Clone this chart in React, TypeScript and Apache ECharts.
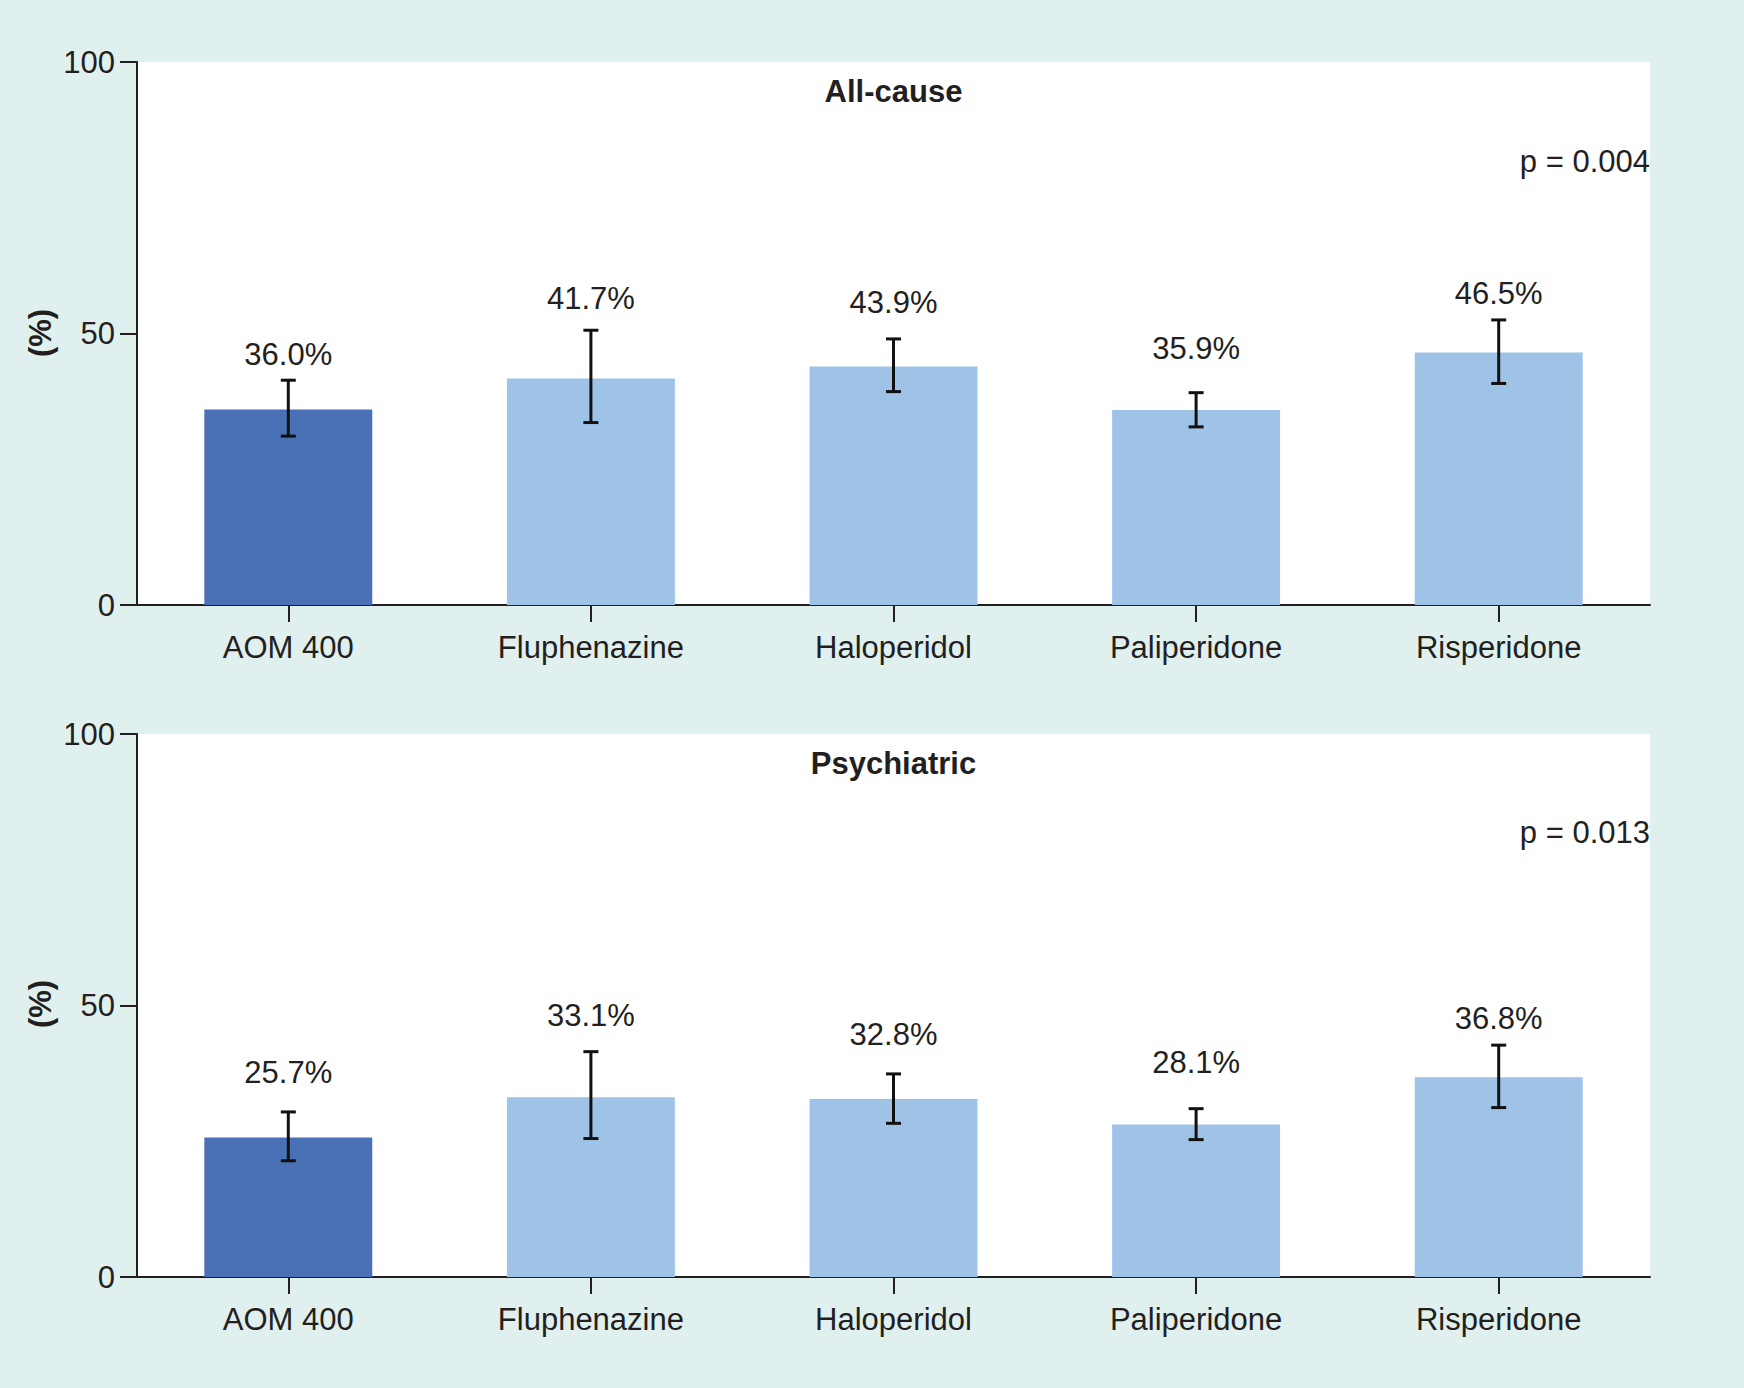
import React, { useEffect, useRef } from "react";
import * as echarts from "echarts";

// Discontinuation rates by long-acting injectable, with 95% CI
const categories = ["AOM 400", "Fluphenazine", "Haloperidol", "Paliperidone", "Risperidone"];

const allCauseRates = [36.0, 41.7, 43.9, 35.9, 46.5];
const allCauseLow = [31.1, 33.6, 39.3, 32.8, 40.8];
const allCauseHigh = [41.4, 50.6, 49.0, 39.1, 52.5];

const psychiatricRates = [25.7, 33.1, 32.8, 28.1, 36.8];
const psychiatricLow = [21.4, 25.5, 28.3, 25.3, 31.2];
const psychiatricHigh = [30.4, 41.5, 37.4, 31.0, 42.7];

const yTickValues = [0, 50, 100];

const panelTitles = ["All-cause", "Psychiatric"];
const pValues = ["p = 0.004", "p = 0.013"];

// Styling
const FONT = "'Liberation Sans', Arial, Helvetica, sans-serif";
const INK = "#231f20";
const BG = "#dff0ee";
const DARK_BAR = "#4a71b5";
const LIGHT_BAR = "#9ec3e6";
const FS = 31;
// Pixel gap between each CI top and its value label
const labelLiftAllCause = [26, 32, 36, 44, 26];
const labelLiftPsychiatric = [39, 36, 39, 46, 27];

const GRID_LEFT = 137;
const GRID_RIGHT_EDGE = 1650;
const GRID_TOPS = [62, 734];
const GRID_HEIGHT = 543;

function errorBarSeries(
  gridIndex: number,
  rates: number[],
  low: number[],
  high: number[],
  lifts: number[]
) {
  return {
    type: "custom",
    xAxisIndex: gridIndex,
    yAxisIndex: gridIndex,
    z: 5,
    encode: { x: 0, y: [1, 2] },
    data: categories.map((_, i) => [i, low[i], high[i], rates[i]]),
    renderItem: (params: any, api: any) => {
      const idx = api.value(0);
      const x = api.coord([idx, 0])[0];
      const yTop = api.coord([idx, api.value(2)])[1];
      const yBot = api.coord([idx, api.value(1)])[1];
      const cap = 7.5;
      const stroke = { stroke: "#111111", lineWidth: 3 };
      return {
        type: "group",
        children: [
          { type: "line", shape: { x1: x, y1: yTop, x2: x, y2: yBot }, style: stroke },
          { type: "line", shape: { x1: x - cap, y1: yTop, x2: x + cap, y2: yTop }, style: stroke },
          { type: "line", shape: { x1: x - cap, y1: yBot, x2: x + cap, y2: yBot }, style: stroke },
          {
            type: "text",
            x: x,
            y: yTop - lifts[params.dataIndex],
            style: {
              text: `${Number(api.value(3)).toFixed(1)}%`,
              align: "center",
              verticalAlign: "middle",
              fontSize: FS,
              fontFamily: FONT,
              fill: INK,
            },
          },
        ],
      };
    },
  };
}

function barSeries(gridIndex: number, rates: number[]) {
  return {
    type: "bar",
    xAxisIndex: gridIndex,
    yAxisIndex: gridIndex,
    barWidth: "55.5%",
    data: rates.map((v, i) => ({
      value: v,
      itemStyle: { color: i === 0 ? DARK_BAR : LIGHT_BAR },
    })),
  };
}

export default function App() {
  const ref = useRef<HTMLDivElement>(null);

  useEffect(() => {
    document.body.style.margin = "0";
    if (!ref.current) return;
    const chart = echarts.init(ref.current, undefined, { renderer: "svg" });

    const grids = GRID_TOPS.map((top) => ({
      left: GRID_LEFT,
      top,
      width: GRID_RIGHT_EDGE - GRID_LEFT,
      height: GRID_HEIGHT,
      show: true,
      backgroundColor: "#ffffff",
      borderWidth: 0,
      containLabel: false,
    }));

    const xAxes = GRID_TOPS.map((_, g) => ({
      type: "category",
      gridIndex: g,
      data: categories,
      axisLine: { show: true, lineStyle: { color: INK, width: 2 } },
      axisTick: {
        show: true,
        alignWithLabel: true,
        length: 17,
        lineStyle: { color: INK, width: 2 },
      },
      axisLabel: {
        margin: 27,
        fontSize: FS,
        fontFamily: FONT,
        color: INK,
      },
      splitLine: { show: false },
    }));

    const yAxes = GRID_TOPS.map((_, g) => ({
      type: "value",
      gridIndex: g,
      min: yTickValues[0],
      max: yTickValues[yTickValues.length - 1],
      interval: yTickValues[1] - yTickValues[0],
      axisLine: { show: true, lineStyle: { color: INK, width: 2 } },
      axisTick: { show: true, length: 17, lineStyle: { color: INK, width: 2 } },
      axisLabel: {
        margin: 22,
        fontSize: FS,
        fontFamily: FONT,
        color: INK,
      },
      splitLine: { show: false },
    }));

    const midX = (GRID_LEFT + GRID_RIGHT_EDGE) / 2;
    const titleYs = [91, 763];
    const pYs = [161, 832];
    const percentYs = [333, 1004];

    const graphics: any[] = [];
    GRID_TOPS.forEach((_, g) => {
      graphics.push({
        type: "text",
        x: midX,
        y: titleYs[g],
        z: 10,
        style: {
          text: panelTitles[g],
          align: "center",
          verticalAlign: "middle",
          fontSize: FS,
          fontWeight: "bold",
          fontFamily: FONT,
          fill: INK,
        },
      });
      graphics.push({
        type: "text",
        x: GRID_RIGHT_EDGE,
        y: pYs[g],
        z: 10,
        style: {
          text: pValues[g],
          align: "right",
          verticalAlign: "middle",
          fontSize: FS,
          fontFamily: FONT,
          fill: INK,
        },
      });
      graphics.push({
        type: "text",
        x: 40,
        y: percentYs[g],
        rotation: Math.PI / 2,
        z: 10,
        style: {
          text: "(%)",
          align: "center",
          verticalAlign: "middle",
          fontSize: FS,
          fontWeight: "bold",
          fontFamily: FONT,
          fill: INK,
        },
      });
    });

    chart.setOption({
      animation: false,
      backgroundColor: BG,
      textStyle: { fontFamily: FONT },
      grid: grids,
      xAxis: xAxes,
      yAxis: yAxes,
      series: [
        barSeries(0, allCauseRates),
        errorBarSeries(0, allCauseRates, allCauseLow, allCauseHigh, labelLiftAllCause),
        barSeries(1, psychiatricRates),
        errorBarSeries(1, psychiatricRates, psychiatricLow, psychiatricHigh, labelLiftPsychiatric),
      ],
      graphic: graphics,
    });

    return () => chart.dispose();
  }, []);

  return <div ref={ref} style={{ width: 1744, height: 1388 }} />;
}
